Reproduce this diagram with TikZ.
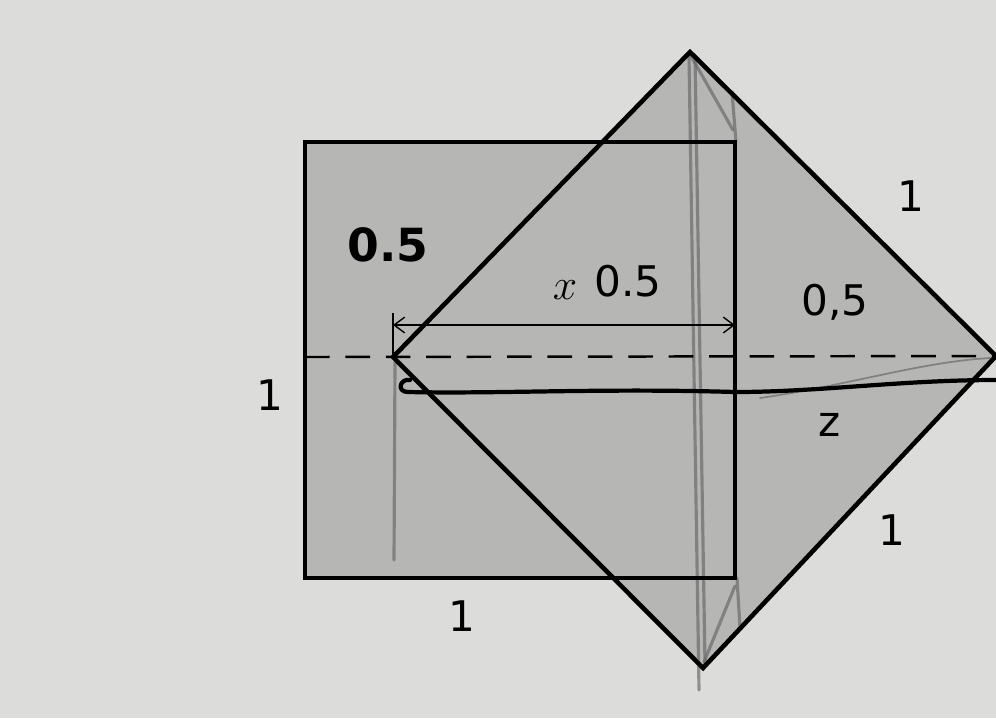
\documentclass[tikz,border=0pt]{standalone}
\usepackage{fontspec}
\usetikzlibrary{arrows.meta}
\newfontfamily\hand{DejaVu Sans}
\definecolor{paper}{RGB}{220,220,218}
\definecolor{fillgray}{RGB}{182,182,180}

\tikzset{
  hw/.style={font=\hand\fontsize{24}{26}\selectfont, inner sep=0pt},
  pencil/.style={draw=black!60, opacity=0.65, line width=1.8pt, line cap=round},
  edge/.style={line width=2.6pt, line join=miter},
}

\begin{document}
\begin{tikzpicture}[x=0.02cm, y=-0.02cm]
\useasboundingbox (0,0) rectangle (996,718);
\fill[paper] (0,0) rectangle (996,718);

% square and diamond
\coordinate (sqa) at (305,142);
\coordinate (sqb) at (735,578);
\coordinate (top) at (690,52);
\coordinate (rgt) at (996,356);
\coordinate (bot) at (703,668);
\coordinate (lft) at (393,357);

\fill[fillgray] (sqa) rectangle (sqb);
\fill[fillgray] (top) -- (rgt) -- (bot) -- (lft) -- cycle;

% pencil marks
\draw[pencil] (689,56) -- (699,690);
\draw[pencil] (695,56) -- (705,664);
\draw[pencil] (691,56) -- (733,130);
\draw[pencil] (732,92) -- (736,142);
\draw[pencil] (737,578) -- (740,628);
\draw[pencil] (704,662) -- (735,586);
\draw[pencil] (395,362) -- (394,560);
\draw[pencil, line width=1pt] (760,398) .. controls (850,385) and (920,362) .. (990,358);

\draw[edge] (sqa) rectangle (sqb);
\draw[edge] (top) -- (rgt) -- (bot) -- (lft) -- cycle;

% half line
\draw[line width=1.4pt, dash pattern=on 14pt off 9pt] (305,357) -- (rgt);

% x dimension
\coordinate (xa) at (393,325);
\coordinate (xb) at (735,325);
\draw[line width=0.8pt] (393,313) -- (lft);
\draw[line width=0.8pt, {Straight Barb[length=6pt,width=9pt]}-{Straight Barb[length=6pt,width=9pt]}] (xa) -- (xb);
\node[font=\fontsize{30}{32}\selectfont, inner sep=0pt] (xlab) at (565,290) {$x$};

% pen line z
\draw[line width=2.4pt, line cap=round, line join=round]
  (410,380) .. controls (400,378) and (396,392) .. (408,392)
  .. controls (500,394) and (600,388) .. (735,392)
  .. controls (820,392) and (900,380) .. (996,380);

% labels
\node[hw, font=\hand\bfseries\fontsize{26}{28}\selectfont] (half) at (388,245) {0.5};
\node[hw] (halfx) at (628,281) {0.5};
\node[hw] (halfr) at (835,302) {0,5};
\node[hw] (zlab) at (830,425) {z};
\node[hw] (onel) at (270,395) {1};
\node[hw] (oneb) at (462,616) {1};
\node[hw] (onetr) at (911,196) {1};
\node[hw] (onebr) at (892,530) {1};
\end{tikzpicture}
\end{document}
